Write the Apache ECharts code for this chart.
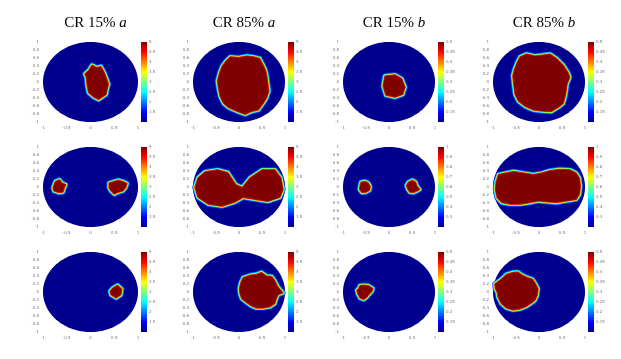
<!DOCTYPE html>
<html><head><meta charset="utf-8">
<script src="https://cdn.jsdelivr.net/npm/echarts@6/dist/echarts.min.js"></script>
<style>html,body{margin:0;padding:0;background:#fff}#c{width:621px;height:359px}</style>
</head><body><div id="c"></div>
<script>
// ---------- data ----------
const columnTitles = ['CR 15% ', 'CR 85% ', 'CR 15% ', 'CR 85% '];
const columnLetters = ['a', 'a', 'b', 'b'];
const xTicks = [-1, -0.5, 0, 0.5, 1];
const yTicks = [-1, -0.8, -0.6, -0.4, -0.2, 0, 0.2, 0.4, 0.6, 0.8, 1];
// colour-bar ranges [min, max, step]
const cbA  = [1, 5, 0.5];
const cbB  = [0.1, 0.5, 0.05];
const cbB2 = [0.2, 1, 0.1];

// inclusion boundaries (x, y)
const blob_r1c1 = [[0.03,0.42],[0.14,0.36],[0.22,0.39],[0.29,0.24],[0.33,0.12],[0.38,-0.06],[0.35,-0.18],[0.33,-0.31],[0.17,-0.44],[0.07,-0.38],[-0.04,-0.27],[-0.07,-0.10],[-0.09,0.12],[-0.12,0.20],[-0.04,0.29]];
const blob_r1c2 = [[-0.19,0.63],[-0.01,0.61],[0.17,0.65],[0.31,0.63],[0.45,0.59],[0.51,0.46],[0.58,0.29],[0.61,0.12],[0.63,-0.06],[0.65,-0.23],[0.60,-0.40],[0.53,-0.53],[0.42,-0.70],[0.27,-0.74],[0.13,-0.81],[-0.05,-0.73],[-0.23,-0.64],[-0.34,-0.53],[-0.41,-0.36],[-0.45,-0.14],[-0.47,0.03],[-0.42,0.24],[-0.37,0.39],[-0.28,0.53]];
const blob_r1c3 = [[-0.09,0.15],[0.13,0.18],[0.28,0.08],[0.35,-0.13],[0.30,-0.31],[0.13,-0.38],[-0.07,-0.33],[-0.13,-0.10]];
const blob_r1c4 = [[-0.41,0.63],[-0.27,0.70],[-0.09,0.65],[0.06,0.67],[0.24,0.70],[0.38,0.59],[0.53,0.42],[0.63,0.24],[0.67,0.12],[0.61,-0.06],[0.58,-0.31],[0.53,-0.53],[0.45,-0.61],[0.27,-0.74],[0.09,-0.73],[-0.12,-0.70],[-0.30,-0.61],[-0.45,-0.48],[-0.52,-0.31],[-0.55,-0.06],[-0.57,0.16],[-0.53,0.33],[-0.47,0.50]];
const blob_r2c1a = [[-0.74,0.14],[-0.65,0.18],[-0.60,0.10],[-0.52,0.06],[-0.55,-0.02],[-0.58,-0.13],[-0.67,-0.14],[-0.77,-0.10],[-0.79,-0.02]];
const blob_r2c1b = [[0.39,0.10],[0.50,0.14],[0.58,0.17],[0.68,0.14],[0.77,0.09],[0.74,-0.02],[0.68,-0.10],[0.58,-0.13],[0.50,-0.18],[0.43,-0.10],[0.39,-0.02]];
const blob_r2c2 = [[-0.89,0.23],[-0.74,0.38],[-0.46,0.43],[-0.24,0.36],[-0.07,0.06],[0.07,-0.01],[0.24,0.23],[0.50,0.43],[0.78,0.43],[0.91,0.23],[0.96,-0.06],[0.89,-0.26],[0.63,-0.36],[0.35,-0.31],[0.09,-0.26],[-0.09,-0.38],[-0.37,-0.48],[-0.67,-0.43],[-0.89,-0.26],[-0.96,-0.01]];
const blob_r2c3a = [[-0.61,0.12],[-0.52,0.14],[-0.45,0.10],[-0.41,0.02],[-0.42,-0.08],[-0.50,-0.13],[-0.59,-0.14],[-0.64,-0.06],[-0.63,0.04]];
const blob_r2c3b = [[0.42,0.12],[0.51,0.17],[0.58,0.12],[0.61,0.02],[0.67,-0.06],[0.61,-0.10],[0.53,-0.14],[0.45,-0.13],[0.40,-0.04],[0.38,0.04]];
const blob_r2c4 = [[-0.88,0.31],[-0.73,0.35],[-0.55,0.39],[-0.34,0.35],[-0.12,0.31],[0.06,0.35],[0.24,0.41],[0.45,0.44],[0.67,0.43],[0.81,0.35],[0.88,0.22],[0.90,0.02],[0.88,-0.18],[0.81,-0.31],[0.60,-0.35],[0.38,-0.39],[0.17,-0.37],[-0.01,-0.35],[-0.19,-0.39],[-0.41,-0.43],[-0.63,-0.43],[-0.81,-0.39],[-0.91,-0.27],[-0.95,-0.06],[-0.93,0.14]];
const blob_r3c1 = [[0.47,0.10],[0.57,0.17],[0.66,0.07],[0.64,-0.07],[0.54,-0.15],[0.43,-0.07],[0.41,0.02]];
const blob_r3c2 = [[0.09,0.36],[0.24,0.42],[0.37,0.44],[0.49,0.49],[0.60,0.40],[0.71,0.39],[0.78,0.28],[0.83,0.16],[0.88,0.08],[0.96,-0.02],[0.85,-0.07],[0.81,-0.17],[0.78,-0.29],[0.67,-0.37],[0.53,-0.40],[0.38,-0.40],[0.27,-0.35],[0.17,-0.27],[0.06,-0.17],[0.02,-0.04],[0.01,0.09],[0.04,0.24]];
const blob_r3c3 = [[-0.63,0.16],[-0.55,0.17],[-0.45,0.16],[-0.35,0.09],[-0.37,0.01],[-0.42,-0.04],[-0.48,-0.13],[-0.55,-0.19],[-0.63,-0.15],[-0.68,-0.04],[-0.70,0.04],[-0.66,0.09]];
const blob_r3c4 = [[-0.71,0.44],[-0.57,0.49],[-0.46,0.50],[-0.36,0.42],[-0.25,0.36],[-0.14,0.32],[-0.07,0.20],[-0.02,0.08],[-0.04,-0.09],[-0.09,-0.21],[-0.18,-0.29],[-0.29,-0.37],[-0.43,-0.43],[-0.57,-0.45],[-0.71,-0.40],[-0.82,-0.29],[-0.89,-0.13],[-0.91,0.00],[-0.95,0.08],[-0.96,0.20],[-0.89,0.26],[-0.82,0.32]];

const panels = [
  {row:0,col:0,shapes:[blob_r1c1],cb:cbA},
  {row:0,col:1,shapes:[blob_r1c2],cb:cbA},
  {row:0,col:2,shapes:[blob_r1c3],cb:cbB},
  {row:0,col:3,shapes:[blob_r1c4],cb:cbB},
  {row:1,col:0,shapes:[blob_r2c1a,blob_r2c1b],cb:cbA},
  {row:1,col:1,shapes:[blob_r2c2],cb:cbA},
  {row:1,col:2,shapes:[blob_r2c3a,blob_r2c3b],cb:cbB2},
  {row:1,col:3,shapes:[blob_r2c4],cb:cbB2},
  {row:2,col:0,shapes:[blob_r3c1],cb:cbA},
  {row:2,col:1,shapes:[blob_r3c2],cb:cbA},
  {row:2,col:2,shapes:[blob_r3c3],cb:cbB},
  {row:2,col:3,shapes:[blob_r3c4],cb:cbB}
];

// ---------- layout ----------
const colLeft = [43, 193, 343, 493];
const colWidth = [95, 92, 92, 92];
const rowTop = [42, 147, 252];
const plotH = 80;
const cbGap = 3, cbW = 6;

const jetStops = [
  {offset:0, color:'#800000'},{offset:0.125, color:'#ff0000'},{offset:0.375, color:'#ffff00'},
  {offset:0.625, color:'#00ffff'},{offset:0.875, color:'#0000ff'},{offset:1, color:'#00008f'}];

const fmt = v => String(+v.toFixed(2));
const tickFont = {fontSize:4, color:'#777', fontFamily:'DejaVu Sans'};

const grid = [], xAxis = [], yAxis = [], series = [], title = [];
panels.forEach((p, i) => {
  const L = colLeft[p.col], W = colWidth[p.col], T = rowTop[p.row];
  grid.push({left:L, top:T, width:W, height:plotH, outerBoundsMode:'none'});
  const gi = grid.length-1;
  xAxis.push({type:'value', gridIndex:gi, min:-1, max:1, interval:0.5,
    axisLine:{show:false}, axisTick:{show:false}, splitLine:{show:false},
    axisLabel:Object.assign({margin:4, formatter:fmt}, tickFont)});
  yAxis.push({type:'value', gridIndex:gi, min:-1, max:1, interval:0.2,
    axisLine:{show:false}, axisTick:{show:false}, splitLine:{show:false},
    axisLabel:Object.assign({margin:4, formatter:fmt}, tickFont)});
  series.push({type:'custom', coordinateSystem:'cartesian2d', xAxisIndex:gi, yAxisIndex:gi, silent:true,
    data:[[0,0]], clip:false,
    renderItem:(params, api) => {
      const children = [];
      const disk = [];
      for (let k = 0; k < 160; k++) { const t = 2*Math.PI*k/160; disk.push(api.coord([Math.cos(t), Math.sin(t)])); }
      children.push({type:'polygon', shape:{points:disk}, style:{fill:'#00008f'}});
      const layers = [['#0050ff',5.2],['#00e8ff',3.8],['#c8ff30',2.6],['#ff7000',1.5]];
      p.shapes.forEach(s => {
        const pts = s.map(q => api.coord(q));
        layers.forEach(([c,w]) => children.push({type:'polygon', shape:{points:pts},
          style:{fill:'none', stroke:c, lineWidth:w, lineJoin:'round'}}));
        children.push({type:'polygon', shape:{points:pts}, style:{fill:'#800000', stroke:'#c00000', lineWidth:0.6, lineJoin:'round'}});
      });
      return {type:'group', children};
    }});
  grid.push({left:L+W+cbGap, top:T, width:cbW, height:plotH, outerBoundsMode:'none'});
  const ci = grid.length-1;
  xAxis.push({type:'value', gridIndex:ci, min:0, max:1, show:false});
  yAxis.push({type:'value', gridIndex:ci, min:p.cb[0], max:p.cb[1], interval:p.cb[2], position:'right',
    axisLine:{show:false}, axisTick:{show:false}, splitLine:{show:false},
    axisLabel:Object.assign({margin:2, showMinLabel:false, formatter:fmt}, tickFont)});
  series.push({type:'custom', coordinateSystem:'cartesian2d', xAxisIndex:ci, yAxisIndex:ci, silent:true,
    data:[[0, p.cb[0]]],
    renderItem:(params, api) => {
      const a = api.coord([0, p.cb[1]]), b = api.coord([1, p.cb[0]]);
      return {type:'rect', shape:{x:a[0], y:a[1], width:b[0]-a[0], height:b[1]-a[1]},
        style:{fill:new echarts.graphic.LinearGradient(0,0,0,1,jetStops)}};
    }});
  if (p.row === 0) {
    title.push({text:'{n|' + columnTitles[p.col] + '}{i|' + columnLetters[p.col] + '}',
      left:L + W/2, top:11, textAlign:'center',
      textStyle:{fontWeight:'normal', rich:{
        n:{fontSize:15, fontFamily:'Liberation Serif', fontWeight:'normal', color:'#000'},
        i:{fontSize:15, fontFamily:'Liberation Serif', fontStyle:'italic', fontWeight:'normal', color:'#000'}}}});
  }
});

const chart = echarts.init(document.getElementById('c'), null, {renderer:'canvas'});
chart.setOption({backgroundColor:'#fff', animation:false, title, grid, xAxis, yAxis, series});
</script></body></html>
